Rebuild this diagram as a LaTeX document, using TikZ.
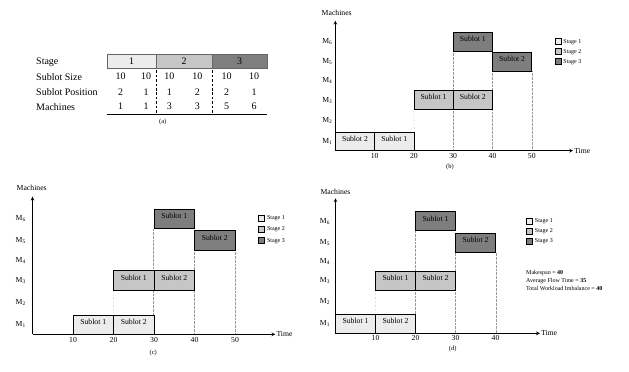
\documentclass[tikz,border=0pt]{standalone}
\usepackage{fontspec}
\setmainfont{Liberation Serif}
\usetikzlibrary{positioning,fit}
\definecolor{stageA}{HTML}{ECECEC}
\definecolor{stageB}{HTML}{C6C6C6}
\definecolor{stageC}{HTML}{7E7E7E}
\pgfdeclarelayer{background}
\pgfsetlayers{background,main}
\newcommand{\tabfont}{\fontsize{10}{12}\selectfont}
\newcommand{\ganttfont}{\fontsize{7.7}{9}\selectfont}
\newcommand{\keyfont}{\fontsize{6}{7}\selectfont}
\newcommand{\capfont}{\fontsize{6.5}{8}\selectfont}
\tikzset{
  rowlabel/.style={font=\tabfont, anchor=west, inner sep=0pt},
  cell/.style={font=\tabfont, inner sep=0pt},
  headcell/.style={draw=black!60, minimum height=14.7pt, inner sep=0pt, font=\tabfont},
  split/.style={line width=0.9pt, dash pattern=on 2.6pt off 1.8pt},
  bar/.style={draw, line width=0.7pt, inner sep=0pt, font=\ganttfont},
  barA/.style={bar, fill=stageA},
  barB/.style={bar, fill=stageB},
  barC/.style={bar, fill=stageC},
  axis/.style={->, line width=0.7pt},
  axlabel/.style={font=\ganttfont, inner sep=1pt},
  mlabel/.style={font=\ganttfont, inner sep=0pt},
  ticklabel/.style={font=\ganttfont, inner sep=0pt},
  caption/.style={font=\capfont, inner sep=0pt},
  guide/.style={densely dotted, line width=0.35pt, black!40},
  keybox/.style={draw, line width=0.5pt, minimum size=6pt, inner sep=0pt},
  keytext/.style={font=\keyfont, inner sep=0pt},
  note/.style={font=\keyfont, anchor=west, inner sep=0pt}
}
\begin{document}
\begin{tikzpicture}[x=1pt, y=1pt, >=stealth]
\useasboundingbox (0,0) rectangle (629,372);

% (a) table
\node[rowlabel] (lstage) at (36,309.3) {Stage};
\node[rowlabel] (lsize) at (36,295.3) {Sublot Size};
\node[rowlabel] (lpos) at (36,280) {Sublot Position};
\node[rowlabel] (lmach) at (36,265.3) {Machines};
\node[headcell, fill=stageA, minimum width=49pt] (h1) at (131.5,310.65) {1};
\node[headcell, fill=stageB, minimum width=56pt] (h2) at (184,310.65) {2};
\node[headcell, fill=stageC, minimum width=55pt] (h3) at (239.5,310.65) {3};
\node[cell] (s1) at (120.7,295.3) {10};
\node[cell] (s2) at (146,295.3) {10};
\node[cell] (s3) at (169.3,295.3) {10};
\node[cell] (s4) at (197.3,295.3) {10};
\node[cell] (s5) at (226.7,295.3) {10};
\node[cell] (s6) at (254,295.3) {10};
\node[cell] (p1) at (120.7,280) {2};
\node[cell] (p2) at (146,280) {1};
\node[cell] (p3) at (169.3,280) {1};
\node[cell] (p4) at (197.3,280) {2};
\node[cell] (p5) at (226.7,280) {2};
\node[cell] (p6) at (254,280) {1};
\node[cell] (m1) at (120.7,265.3) {1};
\node[cell] (m2) at (146,265.3) {1};
\node[cell] (m3) at (169.3,265.3) {3};
\node[cell] (m4) at (197.3,265.3) {3};
\node[cell] (m5) at (226.7,265.3) {5};
\node[cell] (m6) at (254,265.3) {6};
\coordinate (rl) at (107,258);
\coordinate (rr) at (267,258);
\draw[line width=0.6pt] (rl) -- (rr);
\draw[split] ([yshift=-1.5pt]h1.south east) -- (h1.south east |- rl);
\draw[split] ([yshift=-1.5pt]h2.south east) -- (h2.south east |- rl);
\node[caption] (acap) at (162.7,250.3) {(a)};

% (b) chart
\begin{scope}[shift={(335.3,221.3)}, x=3.93pt]
\coordinate (bO) at (0,0);
\coordinate (bX) at (60.5,0);
\coordinate (bY) at (0,130);
\draw[axis] (bO) -- (bX);
\draw[axis] (bO) -- (bY);
\node[axlabel, anchor=west] (bTime) at (bX) {Time};
\node[axlabel] (bMach) at (1.4pt,137.4) {Machines};
\node[mlabel] (bM1) at (-8pt,9) {M\textsubscript{1}};
\node[mlabel] (bM2) at (-8pt,30) {M\textsubscript{2}};
\node[mlabel] (bM3) at (-8pt,50.5) {M\textsubscript{3}};
\node[mlabel] (bM4) at (-8pt,70) {M\textsubscript{4}};
\node[mlabel] (bM5) at (-8pt,89.5) {M\textsubscript{5}};
\node[mlabel] (bM6) at (-8pt,109.3) {M\textsubscript{6}};
\node[ticklabel] (bt1) at (10,-5.5) {10};
\node[ticklabel] (bt2) at (20,-5.5) {20};
\node[ticklabel] (bt3) at (30,-5.5) {30};
\node[ticklabel] (bt4) at (40,-5.5) {40};
\node[ticklabel] (bt5) at (50,-5.5) {50};
\node[barA, fit={(0,0) (10,18)}] (b1a) {Sublot 2};
\node[barA, fit={(10,0) (20,18)}] (b1b) {Sublot 1};
\node[barB, fit={(20,41.4) (30,60)}] (b3a) {Sublot 1};
\node[barB, fit={(30,41.4) (40,60)}] (b3b) {Sublot 2};
\node[barC, fit={(30,99.7) (40,118.4)}] (b6a) {Sublot 1};
\node[barC, fit={(40,79.7) (50,98)}] (b5a) {Sublot 2};
\begin{pgfonlayer}{background}
\draw[guide] (b3a.south west) -- (b1b.north east);
\draw[guide] (b6a.south west) -- (b6a.south west |- bO);
\draw[guide] (b5a.south west) -- (b5a.south west |- bO);
\draw[guide] (b5a.south east) -- (b5a.south east |- bO);
\end{pgfonlayer}
\node[caption] (bcap) at (114.7pt,-16) {(b)};
\node[keybox, fill=stageA] (bk1) at (222.7pt,109) {};
\node[keybox, fill=stageB] (bk2) at (222.7pt,99) {};
\node[keybox, fill=stageC] (bk3) at (222.7pt,89) {};
\node[keytext, right=2pt of bk1] (bk1t) {Stage 1};
\node[keytext, right=2pt of bk2] (bk2t) {Stage 2};
\node[keytext, right=2pt of bk3] (bk3t) {Stage 3};
\end{scope}

% (c) chart
\begin{scope}[shift={(32.5,37.7)}, x=4.05pt]
\coordinate (cO) at (0,0);
\coordinate (cX) at (59.95,0);
\coordinate (cY) at (0,137.6);
\draw[axis] (cO) -- (cX);
\draw[axis] (cO) -- (cY);
\node[axlabel, anchor=west] (cTime) at (cX) {Time};
\node[axlabel] (cMach) at (-0.8pt,146) {Machines};
\node[mlabel] (cM1) at (-11.8pt,9.65) {M\textsubscript{1}};
\node[mlabel] (cM2) at (-11.8pt,32) {M\textsubscript{2}};
\node[mlabel] (cM3) at (-11.8pt,54) {M\textsubscript{3}};
\node[mlabel] (cM4) at (-11.8pt,74) {M\textsubscript{4}};
\node[mlabel] (cM5) at (-11.8pt,94) {M\textsubscript{5}};
\node[mlabel] (cM6) at (-11.8pt,115.3) {M\textsubscript{6}};
\node[ticklabel] (ct1) at (10,-5.7) {10};
\node[ticklabel] (ct2) at (20,-5.7) {20};
\node[ticklabel] (ct3) at (30,-5.7) {30};
\node[ticklabel] (ct4) at (40,-5.7) {40};
\node[ticklabel] (ct5) at (50,-5.7) {50};
\node[barA, fit={(10,0) (20,19.3)}] (c1a) {Sublot 1};
\node[barA, fit={(20,0) (30,19.3)}] (c1b) {Sublot 2};
\node[barB, fit={(20,44.3) (30,63.6)}] (c3a) {Sublot 1};
\node[barB, fit={(30,44.3) (40,63.6)}] (c3b) {Sublot 2};
\node[barC, fit={(30,105.6) (40,125)}] (c6a) {Sublot 1};
\node[barC, fit={(40,84.3) (50,103.6)}] (c5a) {Sublot 2};
\begin{pgfonlayer}{background}
\draw[guide] (c3a.south west) -- (c1a.north east);
\draw[guide] (c6a.south west) -- (c6a.south west |- cO);
\draw[guide] (c5a.south west) -- (c5a.south west |- cO);
\draw[guide] (c5a.south east) -- (c5a.south east |- cO);
\end{pgfonlayer}
\node[caption] (ccap) at (120.8pt,-19) {(c)};
\node[keybox, fill=stageA] (ck1) at (229.1pt,116) {};
\node[keybox, fill=stageB] (ck2) at (229.1pt,105) {};
\node[keybox, fill=stageC] (ck3) at (229.1pt,93.6) {};
\node[keytext, right=2pt of ck1] (ck1t) {Stage 1};
\node[keytext, right=2pt of ck2] (ck2t) {Stage 2};
\node[keytext, right=2pt of ck3] (ck3t) {Stage 3};
\end{scope}

% (d) chart
\begin{scope}[shift={(335.5,38.7)}, x=4pt]
\coordinate (dO) at (0,0);
\coordinate (dX) at (51.1,0);
\coordinate (dY) at (0,135);
\draw[axis] (dO) -- (dX);
\draw[axis] (dO) -- (dY);
\node[axlabel, anchor=west] (dTime) at (dX) {Time};
\node[axlabel] (dMach) at (0,141.6) {Machines};
\node[mlabel] (dM1) at (-10.5pt,9.65) {M\textsubscript{1}};
\node[mlabel] (dM2) at (-10.5pt,32) {M\textsubscript{2}};
\node[mlabel] (dM3) at (-10.5pt,52.8) {M\textsubscript{3}};
\node[mlabel] (dM4) at (-10.5pt,72) {M\textsubscript{4}};
\node[mlabel] (dM5) at (-10.5pt,90.5) {M\textsubscript{5}};
\node[mlabel] (dM6) at (-10.5pt,112.1) {M\textsubscript{6}};
\node[ticklabel] (dt1) at (10,-5) {10};
\node[ticklabel] (dt2) at (20,-5) {20};
\node[ticklabel] (dt3) at (30,-5) {30};
\node[ticklabel] (dt4) at (40,-5) {40};
\node[barA, fit={(0,0) (10,19.3)}] (d1a) {Sublot 1};
\node[barA, fit={(10,0) (20,19.3)}] (d1b) {Sublot 2};
\node[barB, fit={(10,43.3) (20,62.3)}] (d3a) {Sublot 1};
\node[barB, fit={(20,43.3) (30,62.3)}] (d3b) {Sublot 2};
\node[barC, fit={(20,102.6) (30,121.6)}] (d6a) {Sublot 1};
\node[barC, fit={(30,81) (40,100)}] (d5a) {Sublot 2};
\begin{pgfonlayer}{background}
\draw[guide] (d3a.south west) -- (d1a.north east);
\draw[guide] (d6a.south west) -- (d6a.south west |- dO);
\draw[guide] (d5a.south west) -- (d5a.south west |- dO);
\draw[guide] (d5a.south east) -- (d5a.south east |- dO);
\end{pgfonlayer}
\node[caption] (dcap) at (117.2pt,-16) {(d)};
\node[keybox, fill=stageA] (dk1) at (194pt,112) {};
\node[keybox, fill=stageB] (dk2) at (194pt,102) {};
\node[keybox, fill=stageC] (dk3) at (194pt,92.3) {};
\node[keytext, right=2pt of dk1] (dk1t) {Stage 1};
\node[keytext, right=2pt of dk2] (dk2t) {Stage 2};
\node[keytext, right=2pt of dk3] (dk3t) {Stage 3};
\node[note] (dmake) at (190.5pt,60) {Makespan = \textbf{40}};
\node[note] (dflow) at (190.5pt,52.6) {Average Flow Time = \textbf{35}};
\node[note] (dload) at (190.5pt,45) {Total Workload Imbalance = \textbf{40}};
\end{scope}
\end{tikzpicture}
\end{document}
